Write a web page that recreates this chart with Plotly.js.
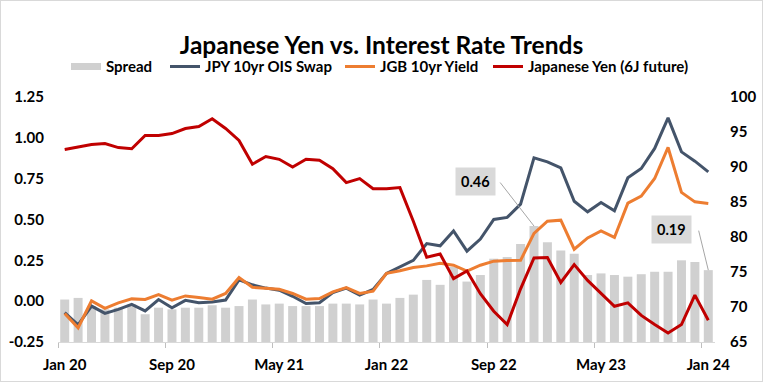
<!DOCTYPE html>
<html>
<head>
<meta charset="utf-8">
<script src="https://cdn.plot.ly/plotly-3.0.1.min.js"></script>
<style>
  html, body { margin: 0; padding: 0; background: #fff; }
  #chart { width: 761px; height: 380px; border: 1px solid #D9D9D9; }
</style>
</head>
<body>
<div id="chart"></div>
<script>
// Monthly categories, Jan 2020 - Jan 2024
const months = [
  "Jan 20","Feb 20","Mar 20","Apr 20","May 20","Jun 20","Jul 20","Aug 20","Sep 20","Oct 20","Nov 20","Dec 20",
  "Jan 21","Feb 21","Mar 21","Apr 21","May 21","Jun 21","Jul 21","Aug 21","Sep 21","Oct 21","Nov 21","Dec 21",
  "Jan 22","Feb 22","Mar 22","Apr 22","May 22","Jun 22","Jul 22","Aug 22","Sep 22","Oct 22","Nov 22","Dec 22",
  "Jan 23","Feb 23","Mar 23","Apr 23","May 23","Jun 23","Jul 23","Aug 23","Sep 23","Oct 23","Nov 23","Dec 23",
  "Jan 24"
];
const tickLabels = ["Jan 20","Sep 20","May 21","Jan 22","Sep 22","May 23","Jan 24"];

// Spread (left axis, bars)
const spread = [
  0.01, 0.02, -0.03, -0.05, -0.04, -0.02, -0.08, -0.04, -0.05, -0.04, -0.04, -0.025,
  -0.04, -0.03, 0.01, -0.02, -0.015, -0.03, -0.03, -0.03, -0.015, -0.015, -0.02, 0.01,
  -0.015, 0.02, 0.04, 0.13, 0.10, 0.21, 0.12, 0.16, 0.26, 0.27, 0.35, 0.46,
  0.36, 0.31, 0.29, 0.16, 0.17, 0.16, 0.15, 0.165, 0.18, 0.18, 0.25, 0.24,
  0.19
];
// JPY 10yr OIS Swap (left axis)
const ois = [
  -0.07, -0.145, -0.03, -0.075, -0.05, -0.02, -0.06, 0.01, -0.04, 0.005, -0.01, -0.005,
  0.007, 0.13, 0.10, 0.08, 0.067, 0.03, -0.014, -0.01, 0.053, 0.08, 0.037, 0.072,
  0.17, 0.21, 0.25, 0.353, 0.339, 0.43, 0.306, 0.38, 0.50, 0.513, 0.594, 0.878,
  0.853, 0.816, 0.612, 0.547, 0.604, 0.553, 0.755, 0.812, 0.935, 1.122, 0.914, 0.857,
  0.792
];
// JGB 10yr Yield (left axis)
const jgb = [
  -0.075, -0.163, 0.002, -0.044, -0.01, 0.014, 0.01, 0.04, 0.006, 0.032, 0.022, 0.012,
  0.047, 0.145, 0.085, 0.08, 0.073, 0.047, 0.012, 0.016, 0.057, 0.083, 0.047, 0.061,
  0.17, 0.186, 0.206, 0.216, 0.232, 0.22, 0.184, 0.22, 0.245, 0.249, 0.25, 0.415,
  0.49, 0.496, 0.318, 0.387, 0.43, 0.39, 0.60, 0.643, 0.751, 0.941, 0.666, 0.608,
  0.598
];
// Japanese Yen 6J future (right axis)
const yen = [
  92.5, 92.86, 93.2, 93.34, 92.77, 92.6, 94.5, 94.5, 94.77, 95.5, 95.77, 96.9,
  95.5, 93.8, 90.4, 91.5, 91.1, 90.0, 91.1, 90.96, 89.77, 87.77, 88.34, 86.9,
  86.9, 87.06, 82.24, 77.1, 77.57, 74.05, 75.14, 71.9, 69.39, 67.49, 72.6, 77.0,
  77.06, 73.5, 76.06, 73.8, 71.9, 70.1, 70.6, 68.8, 67.5, 66.3, 67.5, 71.7,
  68.1
];

const FONT = "Lato, 'Open Sans', sans-serif";
const leftMin = -0.25, leftMax = 1.25;
const rightMin = 65, rightMax = 100;

const boundaryTicks = [];
for (let k = 0; k < months.length; k += 8) boundaryTicks.push(k - 0.5);

const traces = [
  {
    type: 'bar', name: 'Spread', x: months,
    y: spread.map(v => v - leftMin), base: leftMin,
    marker: { color: '#D0D0D0' }, showlegend: false, legendgroup: 'spread',
    hoverinfo: 'skip'
  },
  {
    type: 'scatter', mode: 'lines', name: 'Spread', x: [null], y: [null],
    line: { color: '#D0D0D0', width: 7 }, legendgroup: 'spread', showlegend: true,
    legend: 'legend'
  },
  {
    type: 'scatter', mode: 'lines', name: 'JPY 10yr OIS Swap', x: months, y: ois,
    line: { color: '#44546A', width: 3 }, legend: 'legend2'
  },
  {
    type: 'scatter', mode: 'lines', name: 'JGB 10yr Yield', x: months, y: jgb,
    line: { color: '#ED7D31', width: 3 }, legend: 'legend3'
  },
  {
    type: 'scatter', mode: 'lines', name: 'Japanese Yen (6J future)', x: months, y: yen,
    xaxis: 'x2', yaxis: 'y2',
    line: { color: '#C00000', width: 3 }, legend: 'legend4'
  }
];

const i46 = spread.indexOf(0.46);
const iLast = months.length - 1;

function legendAt(textStartPx) {
  return {
    orientation: 'h', xref: 'container', yref: 'container',
    x: (textStartPx - 40 - 1) / 761, xanchor: 'left',
    y: 1 - 65.7 / 380, yanchor: 'middle',
    font: { family: FONT, size: 15, weight: 'bold', color: '#000' },
    bgcolor: 'rgba(0,0,0,0)', borderwidth: 0, itemwidth: 30
  };
}

const tickFont = { family: FONT, size: 15, weight: 'bold', color: '#000' };

const layout = {
  width: 761, height: 380,
  margin: { l: 57, r: 47, t: 96, b: 39 },
  paper_bgcolor: '#fff', plot_bgcolor: '#fff',
  font: { family: FONT, color: '#000', size: 15, weight: 'bold' },
  title: {
    text: 'Japanese Yen vs. Interest Rate Trends',
    font: { family: FONT, size: 24.5, weight: 'bold', color: '#000' },
    x: 0.5, xanchor: 'center', xref: 'container',
    y: 1 - 44 / 380, yanchor: 'middle', yref: 'container'
  },
  showlegend: true,
  legend: legendAt(106),
  legend2: legendAt(205),
  legend3: legendAt(380),
  legend4: legendAt(528),
  bargap: 0.33,
  xaxis: {
    type: 'category', range: [-0.5, months.length - 0.5],
    tickmode: 'array', tickvals: tickLabels, ticktext: tickLabels,
    ticks: '', showgrid: false, zeroline: false,
    showline: true, linecolor: '#D9D9D9', linewidth: 1,
    tickfont: tickFont, ticklabelstandoff: 9, fixedrange: true
  },
  xaxis2: {
    type: 'category', overlaying: 'x', anchor: 'y',
    range: [-0.5, months.length - 0.5],
    tickmode: 'array', tickvals: boundaryTicks,
    ticks: 'outside', ticklen: 5, tickcolor: '#BFBFBF', tickwidth: 1,
    showticklabels: false, showgrid: false, zeroline: false, showline: false
  },
  yaxis: {
    range: [leftMin, leftMax], tickmode: 'array',
    tickvals: [-0.25, 0, 0.25, 0.5, 0.75, 1.0, 1.25],
    ticktext: ['-0.25', '0.00', '0.25', '0.50', '0.75', '1.00', '1.25'],
    showgrid: false, zeroline: false, showline: false, ticks: '',
    tickfont: tickFont, ticklabelstandoff: 13
  },
  yaxis2: {
    range: [rightMin, rightMax], overlaying: 'y', side: 'right', anchor: 'x',
    tickmode: 'array', tickvals: [65, 70, 75, 80, 85, 90, 95, 100],
    showgrid: false, zeroline: false, showline: false, ticks: '',
    tickfont: tickFont, ticklabelstandoff: 14
  },
  annotations: [
    // leader lines
    {
      x: months[i46], y: spread[i46], xref: 'x', yref: 'y', text: '',
      showarrow: true, arrowhead: 0, arrowwidth: 1, arrowcolor: '#A6A6A6',
      ax: -35, ay: -45, standoff: 0
    },
    {
      x: months[iLast], y: spread[iLast], xref: 'x', yref: 'y', text: '',
      showarrow: true, arrowhead: 0, arrowwidth: 1, arrowcolor: '#A6A6A6',
      ax: -10, ay: -41, standoff: 0
    },
    // label boxes
    {
      x: months[i46], y: spread[i46], xref: 'x', yref: 'y',
      text: spread[i46].toFixed(2), showarrow: false,
      xanchor: 'right', yanchor: 'middle', xshift: -38, yshift: 45,
      bgcolor: '#D9D9D9', borderpad: 5,
      font: { family: FONT, size: 14.5, weight: 'bold', color: '#000' }
    },
    {
      x: months[iLast], y: spread[iLast], xref: 'x', yref: 'y',
      text: spread[iLast].toFixed(2), showarrow: false,
      xanchor: 'right', yanchor: 'middle', xshift: -16, yshift: 41,
      bgcolor: '#D9D9D9', borderpad: 5,
      font: { family: FONT, size: 14.5, weight: 'bold', color: '#000' }
    }
  ]
};

Plotly.newPlot('chart', traces, layout, { displayModeBar: false, staticPlot: true });
</script>
</body>
</html>
